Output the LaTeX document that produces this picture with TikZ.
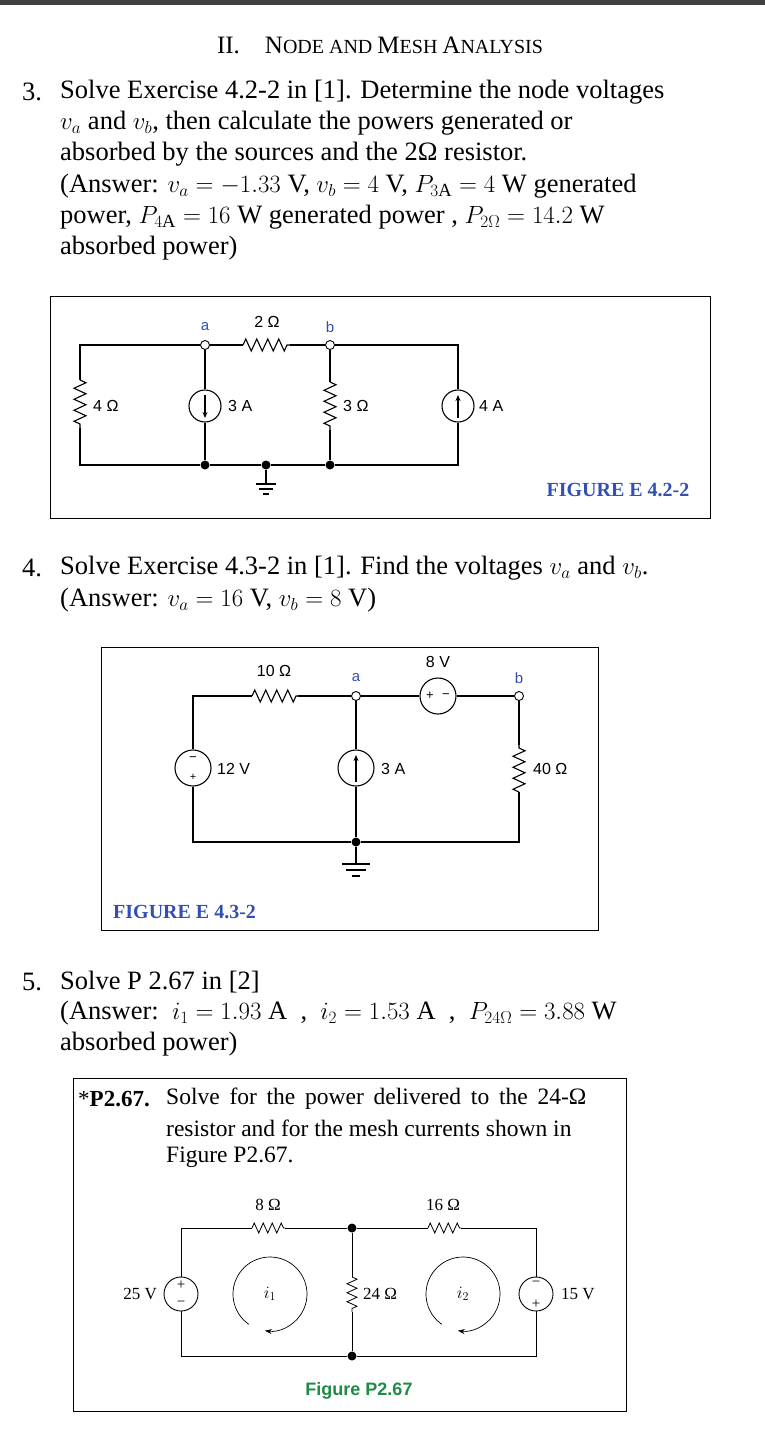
\documentclass[tikz,border=0pt]{standalone}
\usepackage{fontspec}
\setmainfont{Liberation Serif}
\newfontfamily\sanf{Liberation Sans}
\usetikzlibrary{decorations.pathmorphing,arrows.meta}
\definecolor{blu}{RGB}{50,80,180}
\definecolor{grn}{RGB}{30,140,70}
\begin{document}
\begin{tikzpicture}[x=1pt,y=-1pt,
  txt/.style={anchor=west,inner sep=0pt,font=\fontsize{26.5}{30}\selectfont},
  lbl/.style={inner sep=1pt,font=\sanf\fontsize{16}{18}\selectfont},
  nl/.style={inner sep=1pt,font=\sanf\fontsize{15}{17}\selectfont,text=blu},
  sl/.style={inner sep=1pt,font=\fontsize{17}{19}\selectfont},
  box/.style={draw,line width=1.4pt},
  w/.style={line width=1.1pt},
  res/.style={decorate,decoration={zigzag,segment length=11pt,amplitude=6pt}},
  res3/.style={line width=0.8pt,decorate,decoration={zigzag,segment length=9pt,amplitude=5pt}},
  src/.style={draw,circle,minimum size=32pt,inner sep=0pt,line width=1.1pt},
  oc/.style={draw,circle,fill=white,minimum size=9pt,inner sep=0pt,line width=0.9pt},
  dot/.style={circle,fill,minimum size=9pt,inner sep=0pt},
  arr/.style={line width=1.1pt,-{Stealth[length=6pt,width=5pt]}},
  fig/.style={font=\bfseries\fontsize{20}{22}\selectfont,text=blu,inner sep=0pt}]
\useasboundingbox (0,0) rectangle (765,1443);
\fill[black!75] (0,0) rectangle (765,5);
% header text
\node[txt,anchor=center] (ttl) at (380,45) {\fontsize{25}{28}\selectfont II.\quad N\fontsize{20}{22}\selectfont ODE AND \fontsize{25}{28}\selectfont M\fontsize{20}{22}\selectfont ESH \fontsize{25}{28}\selectfont A\fontsize{20}{22}\selectfont NALYSIS};
\node[txt] (n3) at (22,92) {3.};
\node[txt] (l1) at (60,92) {Solve Exercise 4.2-2 in [1]. Determine the node voltages};
\node[txt] (l2) at (60,123) {$v_a$ and $v_b$, then calculate the powers generated or};
\node[txt] (l3) at (60,154) {absorbed by the sources and the 2Ω resistor.};
\node[txt] (l4) at (60,186) {(Answer: $v_a=-1.33$ V, $v_b=4$ V, $P_{3\mathrm{A}}=4$ W generated};
\node[txt] (l5) at (60,217) {power, $P_{4\mathrm{A}}=16$ W generated power , $P_{2\Omega}=14.2$ W};
\node[txt] (l6) at (60,248) {absorbed power)};
% figure 1
\node[box,draw,minimum width=660pt,minimum height=222pt,anchor=north west,inner sep=0pt] (b1) at (50,296) {};
\coordinate (tl1) at (80,345); \coordinate (bl1) at (80,465);
\node[oc] (a1) at (205,345) {}; \node[oc] (bb1) at (330,345) {};
\coordinate (tr1) at (458,345); \coordinate (br1) at (458,465);
\node[dot] (da1) at (205,465) {}; \node[dot] (dg1) at (266,465) {}; \node[dot] (db1) at (330,465) {};
\node[src,minimum size=32pt] (s3a) at (205,406) {};
\node[src,minimum size=32pt] (s4a) at (458,406) {};
\draw[w] (a1) -- (tl1) -- (80,380);
\draw[w,res] (80,380) -- (80,428);
\draw[w] (80,428) -- (bl1) -- (da1) -- (dg1) -- (db1) -- (br1) -- (s4a) -- (tr1) -- (bb1);
\draw[w] (a1) -- (243,345); \draw[w,res] (243,345) -- (290,345); \draw[w] (290,345) -- (bb1);
\draw[w] (a1) -- (s3a) -- (da1);
\draw[w] (bb1) -- (330,382); \draw[w,res] (330,382) -- (330,430); \draw[w] (330,430) -- (db1);
\draw[arr] (205,395) -- (205,418);
\draw[arr] (458,418) -- (458,395);
\draw[w] (dg1) -- (266,484);
\draw[w] (256,484) -- (276,484) (259,489) -- (273,489) (263,494) -- (269,494);
\node[nl] (la1) at (205,327) {a};
\node[nl] (lb1) at (330,327) {b};
\node[lbl] (l2o) at (267,322) {2 Ω};
\node[lbl,anchor=west] (l4o) at (92,406) {4 Ω};
\node[lbl,anchor=west] (l3a) at (227,406) {3 A};
\node[lbl,anchor=west] (l3o) at (342,406) {3 Ω};
\node[lbl,anchor=west] (l4a) at (478,406) {4 A};
\node[fig] (f1) at (618,490) {FIGURE E 4.2-2};
% problem 4
\node[txt] (n4) at (22,568) {4.};
\node[txt] (m1) at (60,568) {Solve Exercise 4.3-2 in [1]. Find the voltages $v_a$ and $v_b$.};
\node[txt] (m2) at (60,600) {(Answer: $v_a=16$ V, $v_b=8$ V)};
% figure 2
\node[box,draw,minimum width=497pt,minimum height=283pt,anchor=north west,inner sep=0pt] (b2) at (101,647) {};
\coordinate (tl2) at (193,696); \coordinate (bl2) at (193,842);
\node[oc] (a2) at (356,696) {}; \node[oc] (bb2) at (519,696) {};
\coordinate (br2) at (519,842);
\node[dot] (dg2) at (356,842) {};
\node[src,minimum size=36pt] (s12) at (193,768) {};
\node[src,minimum size=36pt] (s3) at (356,768) {};
\node[src,minimum size=36pt] (s8) at (438,696) {};
\draw[w] (s12) -- (tl2) -- (252,696); \draw[w,res] (252,696) -- (298,696); \draw[w] (298,696) -- (a2);
\draw[w] (s12) -- (bl2) -- (dg2) -- (br2) -- (519,792); \draw[w,res] (519,792) -- (519,745); \draw[w] (519,745) -- (bb2);
\draw[w] (a2) -- (s8) -- (bb2);
\draw[w] (a2) -- (s3) -- (dg2);
\draw[arr] (356,782) -- (356,755);
\node[font=\sanf\fontsize{13}{14}\selectfont,inner sep=0pt] (p8) at (430,696) {+};
\node[font=\sanf\fontsize{13}{14}\selectfont,inner sep=0pt] (m8) at (446,696) {\textminus};
\node[font=\sanf\fontsize{13}{14}\selectfont,inner sep=0pt] (m12) at (193,759) {\textminus};
\node[font=\sanf\fontsize{11}{12}\selectfont,inner sep=0pt] (p12) at (193,777) {+};
\draw[w] (dg2) -- (356,864);
\draw[w] (342,864) -- (370,864) (346,870) -- (366,870) (352,876) -- (360,876);
\node[nl] (la2) at (356,678) {a};
\node[nl] (lb2) at (519,678) {b};
\node[lbl] (l10) at (274,671) {10 Ω};
\node[lbl] (l8v) at (438,662) {8 V};
\node[lbl,anchor=west] (l12) at (216,769) {12 V};
\node[lbl,anchor=west] (l3b) at (380,769) {3 A};
\node[lbl,anchor=west] (l40) at (532,769) {40 Ω};
\node[fig,anchor=west] (f2) at (113,912) {FIGURE E 4.3-2};
% problem 5
\node[txt] (n5) at (22,982) {5.};
\node[txt] (k1) at (60,982) {Solve P 2.67 in [2]};
\node[txt] (k2) at (60,1013) {(Answer:\enspace $i_1=1.93$ A\enspace,\enspace $i_2=1.53$ A\enspace,\enspace $P_{24\Omega}=3.88$ W};
\node[txt] (k3) at (60,1044) {absorbed power)};
% figure 3
\node[box,draw,minimum width=553pt,minimum height=333pt,anchor=north west,inner sep=0pt] (b3) at (73,1078) {};
\node[anchor=west,inner sep=0pt,font=\fontsize{23}{26}\selectfont] (pp) at (78,1099) {*\textbf{P2.67.}};
\node[anchor=west,inner sep=0pt,font=\fontsize{23.5}{26}\selectfont] (q1) at (166,1099) {Solve\, for\, the\, power\, delivered\, to\, the\, 24-Ω};
\node[anchor=west,inner sep=0pt,font=\fontsize{23.5}{26}\selectfont] (q2) at (166,1128) {resistor and for the mesh currents shown in};
\node[anchor=west,inner sep=0pt,font=\fontsize{23.5}{26}\selectfont] (q3) at (166,1157) {Figure P2.67.};
\coordinate (tl3) at (181,1228); \coordinate (bl3) at (181,1356);
\coordinate (tr3) at (536,1228); \coordinate (br3) at (536,1356);
\node[dot] (dt3) at (352,1228) {};
\node[dot] (db3) at (352,1356) {};
\node[src,minimum size=34pt,line width=0.9pt] (s25) at (181,1294) {};
\node[src,minimum size=34pt,line width=0.9pt] (s15) at (536,1294) {};
\draw[line width=0.8pt] (s25) -- (tl3) -- (252,1228);
\draw[res3] (252,1228) -- (285,1228);
\draw[line width=0.8pt] (285,1228) -- (dt3) -- (428,1228);
\draw[res3] (428,1228) -- (461,1228);
\draw[line width=0.8pt] (461,1228) -- (tr3) -- (s15) -- (br3) -- (db3) -- (bl3) -- (s25);
\draw[line width=0.8pt] (dt3) -- (352,1277);
\draw[res3] (352,1277) -- (352,1312);
\draw[line width=0.8pt] (352,1312) -- (db3);
\node[font=\fontsize{15}{16}\selectfont,inner sep=0pt] (p25) at (181,1285) {+};
\node[font=\fontsize{15}{16}\selectfont,inner sep=0pt] (m25) at (181,1304) {\textminus};
\node[font=\fontsize{15}{16}\selectfont,inner sep=0pt] (m15) at (536,1284) {\textminus};
\node[font=\fontsize{15}{16}\selectfont,inner sep=0pt] (p15) at (536,1304) {+};
\coordinate (c1) at (270,1294); \coordinate (c2) at (463,1294);
\draw[line width=0.7pt,-{Stealth[length=7pt,width=5pt]}] ([shift={(-235:37)}]c1) arc[start angle=-235,end angle=98,radius=37];
\draw[line width=0.7pt,-{Stealth[length=7pt,width=5pt]}] ([shift={(-235:37)}]c2) arc[start angle=-235,end angle=98,radius=37];
\node[sl] (i1) at (c1) {$i_1$};
\node[sl] (i2) at (c2) {$i_2$};
\node[sl] (r8) at (268,1205) {8 Ω};
\node[sl] (r16) at (443,1205) {16 Ω};
\node[sl,anchor=west] (r24) at (362,1294) {24 Ω};
\node[sl,anchor=east] (v25) at (158,1294) {25 V};
\node[sl,anchor=west] (v15) at (560,1294) {15 V};
\node[font=\sanf\bfseries\fontsize{18}{20}\selectfont,text=grn,inner sep=0pt] (f3) at (359,1391) {Figure P2.67};
\end{tikzpicture}
\end{document}
